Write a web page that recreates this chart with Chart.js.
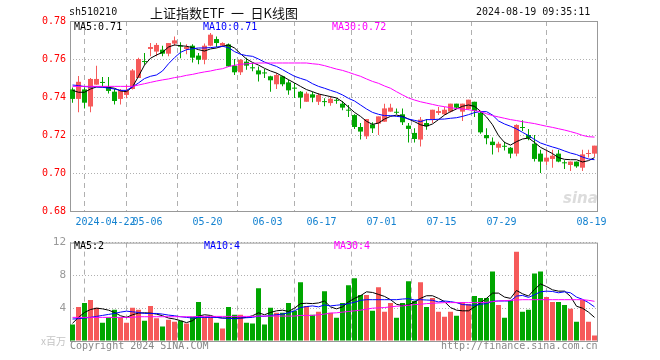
<!DOCTYPE html>
<html><head><meta charset="utf-8">
<script src="https://cdn.jsdelivr.net/npm/chart.js@4.4.1/dist/chart.umd.min.js"></script>
<style>
html,body{margin:0;padding:0;background:#fff;width:660px;height:360px;overflow:hidden;}
#wrap{position:relative;width:660px;height:360px;}
canvas{position:absolute;left:0;}
.t{position:absolute;white-space:nowrap;font-family:'DejaVu Sans Mono',monospace;font-size:10px;line-height:12px;}
</style></head><body>
<div id="wrap">
<canvas id="pc" width="660" height="232" style="top:0px"></canvas>
<canvas id="vc" width="660" height="128" style="top:232px"></canvas>
<div class="t" style="left:69px;top:6px;color:#111">sh510210</div>
<div class="t" style="left:150px;top:4px;font-family:'Noto Sans CJK SC',sans-serif;font-size:13px;line-height:17px;color:#111">上证指数ETF&ensp;一&ensp;日K线图</div>
<div class="t" style="left:476px;top:6px;color:#111">2024-08-19 09:35:11</div>
<div class="t" style="left:74px;top:21px;color:#000">MA5:0.71</div>
<div class="t" style="left:203px;top:21px;color:#0000ff">MA10:0.71</div>
<div class="t" style="left:332px;top:21px;color:#ff00ff">MA30:0.72</div>
<div class="t" style="left:74px;top:240px;color:#000">MA5:2</div>
<div class="t" style="left:204px;top:240px;color:#0000ff">MA10:4</div>
<div class="t" style="left:334px;top:240px;color:#ff00ff">MA30:4</div>
<div class="t" style="left:70px;top:340px;color:#888">Copyright 2024 SINA.COM</div>
<div class="t" style="left:441px;top:340px;color:#888">http://finance.sina.com.cn</div>
<div class="t" style="left:563px;top:189px;font-family:'DejaVu Sans',sans-serif;font-style:italic;font-weight:bold;font-size:15px;line-height:18px;color:#dcdcdc">sina</div>
</div>
<script>
const tickDates = ['2024-04-22','05-06','05-20','06-03','06-17','07-01','07-15','07-29','08-19'];
const tickIdx = [6,13,23,33,42,52,62,72,87];
const priceTicks = [0.68,0.70,0.72,0.74,0.76,0.78];
const volTicks = [0,4,8,12];

const open  = [.744,.739,.744,.735,.7465,.7478,.7453,.7428,.739,.7411,.7442,.750,.7588,.7653,.7639,.7649,.7628,.7681,.7669,.7653,.7670,.7618,.7596,.7670,.7705,.7670,.7677,.7565,.7530,.7586,.7555,.7540,.7528,.7509,.7467,.7509,.7477,.7448,.7428,.7375,.7414,.7375,.7377,.7368,.7384,.7365,.7332,.7305,.7242,.7193,.7256,.7260,.7270,.7323,.7321,.7309,.7249,.7211,.7176,.7263,.7284,.7316,.7309,.7323,.7365,.7323,.7337,.7375,.7316,.7200,.7165,.7133,.7142,.7133,.7102,.7240,.7200,.7154,.7102,.7060,.7074,.7102,.7055,.7042,.7060,.7028,.7100,.7102];
const high  = [.745,.751,.745,.750,.7565,.7505,.7505,.7442,.7442,.7463,.7547,.7607,.7632,.7684,.7684,.7670,.7684,.7719,.7688,.7677,.7677,.7632,.7681,.7737,.7719,.7688,.7681,.7600,.7600,.7607,.7579,.7560,.7547,.7512,.7526,.7512,.7491,.7474,.7432,.7428,.7428,.7421,.7393,.7404,.7393,.7379,.7358,.7309,.7263,.7284,.7267,.7298,.7365,.7365,.7340,.7340,.7263,.7235,.7295,.7284,.7333,.7347,.7347,.7365,.7365,.7365,.7386,.7375,.7323,.7235,.7187,.7165,.7165,.7137,.7256,.7277,.7232,.7200,.7123,.7123,.7123,.7123,.7067,.7060,.7060,.7123,.7123,.7144];
const low   = [.737,.732,.734,.732,.7465,.7456,.7418,.7361,.7361,.7393,.7439,.750,.7570,.7614,.7614,.7614,.7614,.7670,.7604,.7625,.7582,.7572,.7572,.7667,.7663,.7667,.7558,.7516,.7516,.7544,.7535,.7481,.7500,.7428,.7442,.7456,.7412,.7395,.7340,.7375,.7372,.7358,.7351,.7354,.7365,.7330,.7295,.7232,.7176,.7179,.7211,.7200,.7270,.7323,.7309,.7253,.7161,.7161,.7140,.7228,.7263,.7305,.7305,.7319,.7337,.7274,.7333,.7295,.7207,.7151,.7098,.7109,.7119,.7077,.7088,.7221,.7172,.7060,.7000,.7042,.7028,.7056,.7021,.7011,.7028,.7011,.7081,.7084];
const close = [.739,.748,.737,.7495,.7495,.7474,.7432,.7379,.7435,.7435,.7540,.760,.7584,.7663,.7674,.7628,.7684,.7698,.7665,.7663,.7607,.7596,.7670,.7728,.7684,.7684,.7561,.7530,.7596,.7565,.7551,.7519,.7524,.7488,.7516,.7467,.7435,.7444,.7397,.7418,.7397,.7411,.7373,.7391,.7380,.7344,.7328,.7242,.7218,.7284,.7235,.7298,.7340,.7344,.7317,.7267,.7232,.7179,.7281,.7246,.7333,.7326,.7333,.7365,.7344,.7365,.7386,.7326,.7214,.7183,.7147,.7154,.7138,.7102,.7253,.7237,.7183,.7074,.7060,.7081,.7091,.7060,.7051,.7060,.7035,.7098,.7104,.7144];

const ma5  = [.7435,.7425,.7425,.7442,.7453,.7453,.7451,.7446,.7432,.7428,.7453,.7509,.7568,.7604,.7621,.7635,.7663,.7674,.7670,.7667,.7660,.7649,.7642,.7653,.7658,.7667,.7674,.7658,.7628,.7600,.7582,.7568,.7551,.7537,.7526,.7509,.7491,.7474,.7456,.7439,.7428,.7416,.7409,.7402,.7395,.7375,.7347,.7319,.7298,.7272,.7256,.7263,.7284,.7298,.7305,.7298,.7284,.7270,.7254,.7246,.7258,.7281,.7305,.7323,.7337,.7351,.7358,.7351,.7325,.7295,.7254,.7197,.7161,.7147,.7165,.7179,.7184,.7161,.7135,.7119,.7102,.7081,.7072,.7070,.7070,.7058,.7065,.7081];
const ma10 = [.7463,.7460,.7455,.7453,.7453,.7451,.7447,.7442,.7435,.7435,.7453,.7474,.7497,.7509,.7516,.7537,.7575,.7607,.7635,.7649,.7654,.7658,.7658,.7660,.7663,.7667,.7660,.7639,.7625,.7618,.7614,.7600,.7584,.7572,.7561,.7544,.7526,.7509,.7498,.7488,.7470,.7456,.7446,.7435,.7425,.7411,.7393,.7379,.7358,.7337,.7319,.7309,.7302,.7302,.7298,.7295,.7284,.7277,.7270,.7281,.7281,.7283,.7284,.7288,.7291,.7298,.7307,.7318,.7323,.7323,.7305,.7274,.7258,.7246,.7232,.7214,.7197,.7176,.7158,.7147,.7137,.7128,.7116,.7105,.7097,.7084,.7074,.7070];
const ma30 = [.7456,.7456,.7456,.7456,.7456,.7456,.7456,.7456,.7456,.7456,.7456,.7463,.7470,.7477,.7484,.7490,.7495,.7502,.7507,.7514,.7519,.7526,.7532,.7537,.7544,.7549,.7560,.7567,.7572,.7575,.7577,.7579,.7579,.7579,.7579,.7579,.7579,.7579,.7579,.7579,.7575,.7572,.7565,.7556,.7547,.7540,.7530,.7519,.7509,.7495,.7482,.7472,.7458,.7446,.7428,.7411,.7395,.7384,.7375,.7368,.7361,.7354,.7349,.7344,.7339,.7337,.7333,.7328,.7323,.7312,.7302,.7295,.7288,.7281,.7276,.7270,.7265,.7260,.7253,.7246,.7240,.7233,.7226,.7218,.7209,.7198,.7191,.7189];

const vol = [2.0,4.16,4.64,5.0,4.04,2.24,2.88,3.8,2.88,2.24,4.04,3.8,2.48,4.28,2.76,1.76,2.6,2.36,2.48,2.12,2.96,4.76,2.96,2.96,2.24,1.52,4.16,3.2,3.2,2.24,2.12,6.44,2.0,4.04,3.44,3.44,4.64,3.68,7.16,4.28,3.2,3.56,6.08,3.44,2.84,4.64,6.8,7.64,5.6,5.6,3.68,6.56,3.56,4.64,2.84,4.64,7.28,4.88,7.16,4.16,5.24,3.56,2.96,3.56,3.08,4.76,4.52,5.48,5.24,5.24,8.48,4.4,2.84,5.0,10.88,3.56,3.8,8.24,8.48,5.36,4.76,4.76,4.4,3.92,2.36,5.0,2.36,0.68];
const vma5  = [2.16,2.88,3.48,3.84,4.0,3.92,3.76,3.48,3.08,2.88,3.2,3.4,3.44,3.4,3.28,3.08,2.8,2.68,2.48,2.24,2.48,3.04,3.2,3.12,2.88,2.8,2.8,2.8,2.8,2.88,3.08,3.44,3.2,3.48,3.68,3.76,3.6,4.0,4.56,4.6,4.56,4.64,4.88,4.16,3.92,4.16,4.76,5.2,5.52,6.0,5.92,5.68,5.44,5.04,4.48,4.32,4.4,4.76,5.2,5.52,5.52,5.2,4.8,4.08,3.76,3.68,3.68,4.16,4.64,5.2,5.84,5.84,5.36,5.2,6.16,5.76,5.48,6.28,6.96,6.64,6.24,6.08,6.08,5.44,4.24,4.0,3.52,2.88];
const vma10 = [2.68,2.72,2.8,2.88,3.0,3.12,3.24,3.36,3.52,3.64,3.56,3.48,3.36,3.36,3.36,3.28,3.16,3.08,2.96,2.88,2.8,2.88,2.88,2.88,2.88,2.8,2.76,2.72,2.8,2.84,2.88,3.04,3.0,3.12,3.2,3.28,3.44,3.68,4.08,4.2,4.28,4.16,4.4,4.28,4.36,4.44,4.56,4.72,4.96,5.04,5.04,5.04,5.04,5.04,5.04,5.12,5.16,5.0,5.04,5.0,4.96,4.76,4.88,4.8,4.68,4.44,4.4,4.36,4.48,4.56,4.84,4.88,4.88,4.88,5.48,5.56,5.32,5.64,6.0,6.08,6.04,5.88,6.0,5.88,5.36,5.08,4.68,4.16];
const vma30 = [2.88,2.88,2.88,2.88,2.88,2.88,2.88,2.88,2.88,2.88,2.88,2.96,2.96,2.96,2.96,2.96,2.96,2.96,2.96,2.96,2.96,3.0,3.0,3.0,3.0,3.0,3.0,3.0,3.0,3.0,3.0,3.04,3.04,3.04,3.04,3.04,3.04,3.04,3.12,3.12,3.12,3.2,3.28,3.4,3.44,3.52,3.6,3.68,3.76,3.88,4.0,4.04,4.08,4.16,4.24,4.28,4.36,4.44,4.48,4.56,4.6,4.64,4.68,4.68,4.68,4.68,4.68,4.68,4.68,4.72,4.8,4.88,4.92,4.96,5.0,5.04,5.04,5.04,5.04,5.04,5.04,5.04,5.04,5.04,5.04,5.04,4.96,4.84];

const RED = 'rgb(246,90,90)', GREEN = 'rgb(0,166,0)';
const candleColor = i => close[i] >= open[i] ? RED : GREEN;
const idx = close.map((_, i) => i);
const MONO = 'DejaVu Sans Mono';
const xMin = -0.41667, xMax = 87.41667;

Chart.defaults.font.family = MONO;
Chart.defaults.animation = false;

const frame = {id:'frame', beforeDatasetsDraw(c){
  const a = c.chartArea, x = c.ctx;
  x.save(); x.strokeStyle = '#999'; x.lineWidth = 1; x.setLineDash([]);
  x.strokeRect(a.left + 0.5, a.top + 0.5, a.right - a.left, a.bottom - a.top);
  x.restore();
}};

function xScale(showLabels, h){
  return {type:'linear', min:xMin, max:xMax, offset:false,
    afterBuildTicks: s => { s.ticks = tickIdx.map(v => ({value: v - 0.5})); },
    afterFit: s => { s.height = h; },
    ticks:{display:showLabels, autoSkip:false, maxRotation:0, padding:5, color:'#1482d0',
      font:{family:MONO, size:10}, callback:(v, i) => tickDates[i]},
    grid:{color:'#b0b0b0', lineWidth:1, drawTicks:false},
    border:{display:false, dash:[5,4]}};
}
function lineDs(arr, color){
  return {type:'line', data: idx.map(i => ({x:i, y:arr[i]})), borderColor:color, borderWidth:1,
    pointRadius:0, fill:false, tension:0, order:0};
}
const baseOpts = {responsive:false, animation:false, events:[],
  plugins:{legend:{display:false}, tooltip:{enabled:false}}};

new Chart(document.getElementById('pc'), {
  type:'bar',
  data:{datasets:[
    {data: idx.map(i => ({x:i, y:[low[i], high[i]]})), backgroundColor: idx.map(candleColor),
     barThickness:1, grouped:false, inflateAmount:0, borderWidth:0, order:2},
    {data: idx.map(i => ({x:i, y:[open[i], close[i]]})), backgroundColor: idx.map(candleColor),
     barThickness:5, grouped:false, inflateAmount:0, borderWidth:0, minBarLength:1, order:1},
    lineDs(ma30, '#ff00ff'), lineDs(ma10, '#0000ff'), lineDs(ma5, '#000000')
  ]},
  options:Object.assign({}, baseOpts, {
    layout:{padding:{left:0, right:63, top:21, bottom:0}},
    scales:{
      x: xScale(true, 21),
      y:{type:'linear', min:0.68, max:0.78,
        afterBuildTicks: s => { s.ticks = priceTicks.map(v => ({value:v})); },
        afterFit: s => { s.width = 70; },
        ticks:{color:'#ff0000', font:{family:MONO, size:10}, padding:4, callback: v => v.toFixed(2)},
        grid:{color:'#b0b0b0', drawTicks:false}, border:{display:false, dash:[1,2]}}
    }
  }),
  plugins:[frame]
});

new Chart(document.getElementById('vc'), {
  type:'bar',
  data:{datasets:[
    {data: idx.map(i => ({x:i, y:vol[i]})), backgroundColor: idx.map(candleColor),
     barThickness:5, grouped:false, inflateAmount:0, borderWidth:0, order:1},
    lineDs(vma30, '#ff00ff'), lineDs(vma10, '#0000ff'), lineDs(vma5, '#000000')
  ]},
  options:Object.assign({}, baseOpts, {
    layout:{padding:{left:0, right:63, top:9, bottom:19}},
    scales:{
      x: xScale(false, 0),
      y:{type:'linear', min:0, max:12,
        afterBuildTicks: s => { s.ticks = volTicks.map(v => ({value:v})); },
        afterFit: s => { s.width = 70; },
        ticks:{padding:4,
          color: c => (c.tick && c.tick.value === 0) ? '#c4c4c4' : '#999',
          font: c => (c.tick && c.tick.value === 0) ? {family:'Noto Sans CJK SC', size:10} : {family:MONO, size:11},
          callback: v => v === 0 ? 'x百万' : String(v)},
        grid:{color:'#b0b0b0', drawTicks:false}, border:{display:false, dash:[1,2]}}
    }
  }),
  plugins:[frame]
});
</script>
</body></html>
